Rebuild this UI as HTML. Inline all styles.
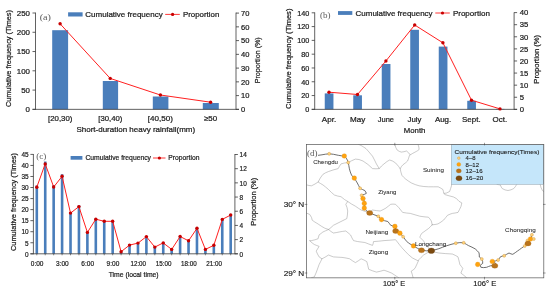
<!DOCTYPE html>
<html lang="en">
<head>
<meta charset="utf-8">
<title>Short-duration heavy rainfall statistics</title>
<style>
html,body{margin:0;padding:0;background:#fff;}
body{width:550px;height:288px;overflow:hidden;}
svg{display:block;font-family:"Liberation Sans","DejaVu Sans",sans-serif;fill:#1a1a1a;}
svg text{stroke:#1a1a1a;stroke-width:0.22px;paint-order:stroke fill;}
svg rect,svg circle,svg ellipse,svg line,svg polyline{shape-rendering:geometricPrecision;}
</style>
</head>
<body>
<svg width="550" height="288" viewBox="0 0 550 288">
<rect x="0" y="0" width="550" height="288" fill="#ffffff"/>
<g id="pa">
<rect x="52.20" y="30.20" width="15.90" height="79.15" fill="#4a7ebb"/>
<rect x="102.80" y="81.00" width="15.30" height="28.35" fill="#4a7ebb"/>
<rect x="152.80" y="96.50" width="15.60" height="12.85" fill="#4a7ebb"/>
<rect x="202.80" y="103.00" width="16.00" height="6.35" fill="#4a7ebb"/>
<line x1="35.50" y1="12.60" x2="35.50" y2="109.75" stroke="#3a3a3a" stroke-width="0.8"/>
<line x1="236.00" y1="12.60" x2="236.00" y2="109.75" stroke="#3a3a3a" stroke-width="0.8"/>
<line x1="32.50" y1="109.35" x2="239.00" y2="109.35" stroke="#3a3a3a" stroke-width="0.8"/>
<line x1="32.50" y1="109.35" x2="35.50" y2="109.35" stroke="#3a3a3a" stroke-width="0.8"/>
<text x="30.00" y="112.11" font-size="7.7" text-anchor="end" textLength="4.40" lengthAdjust="spacingAndGlyphs">0</text>
<line x1="32.50" y1="90.08" x2="35.50" y2="90.08" stroke="#3a3a3a" stroke-width="0.8"/>
<text x="30.00" y="92.84" font-size="7.7" text-anchor="end" textLength="8.80" lengthAdjust="spacingAndGlyphs">50</text>
<line x1="32.50" y1="70.81" x2="35.50" y2="70.81" stroke="#3a3a3a" stroke-width="0.8"/>
<text x="30.00" y="73.57" font-size="7.7" text-anchor="end" textLength="13.20" lengthAdjust="spacingAndGlyphs">100</text>
<line x1="32.50" y1="51.54" x2="35.50" y2="51.54" stroke="#3a3a3a" stroke-width="0.8"/>
<text x="30.00" y="54.30" font-size="7.7" text-anchor="end" textLength="13.20" lengthAdjust="spacingAndGlyphs">150</text>
<line x1="32.50" y1="32.27" x2="35.50" y2="32.27" stroke="#3a3a3a" stroke-width="0.8"/>
<text x="30.00" y="35.03" font-size="7.7" text-anchor="end" textLength="13.20" lengthAdjust="spacingAndGlyphs">200</text>
<line x1="32.50" y1="13.00" x2="35.50" y2="13.00" stroke="#3a3a3a" stroke-width="0.8"/>
<text x="30.00" y="15.76" font-size="7.7" text-anchor="end" textLength="13.20" lengthAdjust="spacingAndGlyphs">250</text>
<line x1="236.00" y1="109.35" x2="239.00" y2="109.35" stroke="#3a3a3a" stroke-width="0.8"/>
<text x="241.00" y="112.11" font-size="7.7" textLength="4.20" lengthAdjust="spacingAndGlyphs">0</text>
<line x1="236.00" y1="95.60" x2="239.00" y2="95.60" stroke="#3a3a3a" stroke-width="0.8"/>
<text x="241.00" y="98.36" font-size="7.7" textLength="8.40" lengthAdjust="spacingAndGlyphs">10</text>
<line x1="236.00" y1="81.85" x2="239.00" y2="81.85" stroke="#3a3a3a" stroke-width="0.8"/>
<text x="241.00" y="84.61" font-size="7.7" textLength="8.40" lengthAdjust="spacingAndGlyphs">20</text>
<line x1="236.00" y1="68.10" x2="239.00" y2="68.10" stroke="#3a3a3a" stroke-width="0.8"/>
<text x="241.00" y="70.86" font-size="7.7" textLength="8.40" lengthAdjust="spacingAndGlyphs">30</text>
<line x1="236.00" y1="54.35" x2="239.00" y2="54.35" stroke="#3a3a3a" stroke-width="0.8"/>
<text x="241.00" y="57.11" font-size="7.7" textLength="8.40" lengthAdjust="spacingAndGlyphs">40</text>
<line x1="236.00" y1="40.60" x2="239.00" y2="40.60" stroke="#3a3a3a" stroke-width="0.8"/>
<text x="241.00" y="43.36" font-size="7.7" textLength="8.40" lengthAdjust="spacingAndGlyphs">50</text>
<line x1="236.00" y1="26.85" x2="239.00" y2="26.85" stroke="#3a3a3a" stroke-width="0.8"/>
<text x="241.00" y="29.61" font-size="7.7" textLength="8.40" lengthAdjust="spacingAndGlyphs">60</text>
<line x1="236.00" y1="13.10" x2="239.00" y2="13.10" stroke="#3a3a3a" stroke-width="0.8"/>
<text x="241.00" y="15.86" font-size="7.7" textLength="8.40" lengthAdjust="spacingAndGlyphs">70</text>
<polyline points="60.1,23.8 110.2,78.4 160.4,95.0 210.6,102.2" fill="none" stroke="#ff2020" stroke-width="1.0" stroke-linejoin="round" stroke-linecap="round"/>
<circle cx="60.10" cy="23.80" r="1.7" fill="#c80000"/>
<circle cx="110.20" cy="78.40" r="1.7" fill="#c80000"/>
<circle cx="160.40" cy="95.00" r="1.7" fill="#c80000"/>
<circle cx="210.60" cy="102.20" r="1.7" fill="#c80000"/>
<text x="60.20" y="121.30" font-size="7.7" text-anchor="middle" textLength="24.40" lengthAdjust="spacingAndGlyphs">[20,30)</text>
<text x="110.40" y="121.30" font-size="7.7" text-anchor="middle" textLength="24.10" lengthAdjust="spacingAndGlyphs">[30,40)</text>
<text x="160.40" y="121.30" font-size="7.7" text-anchor="middle" textLength="25.20" lengthAdjust="spacingAndGlyphs">[40,50)</text>
<text x="210.60" y="121.30" font-size="7.7" text-anchor="middle" textLength="13.20" lengthAdjust="spacingAndGlyphs">≥50</text>
<text x="76.40" y="132.30" font-size="7.7" textLength="118.80" lengthAdjust="spacingAndGlyphs">Short-duration heavy rainfall(mm)</text>
<text transform="translate(10.90 58.60) rotate(-90)" font-size="7.7" text-anchor="middle" textLength="97.00" lengthAdjust="spacingAndGlyphs">Cumulative frequency (Times)</text>
<text transform="translate(260.40 60.30) rotate(-90)" font-size="7.7" text-anchor="middle" textLength="46.10" lengthAdjust="spacingAndGlyphs">Proportion (%)</text>
<rect x="68.10" y="12.30" width="14.50" height="4.20" fill="#4a7ebb"/>
<text x="85.30" y="17.10" font-size="7.7" textLength="77.40" lengthAdjust="spacingAndGlyphs">Cumulative frequency</text>
<line x1="165.20" y1="14.40" x2="179.80" y2="14.40" stroke="#ff2020" stroke-width="0.9"/>
<circle cx="172.60" cy="14.40" r="1.6" fill="#c80000"/>
<text x="182.90" y="17.10" font-size="7.7" textLength="36.40" lengthAdjust="spacingAndGlyphs">Proportion</text>
<text x="39.70" y="20.00" font-size="7.9" textLength="11.30" lengthAdjust="spacingAndGlyphs" fill="#5a5a5a" font-family="'Liberation Serif','DejaVu Serif',serif" style="stroke:none">(a)</text>
</g>
<g id="pb">
<rect x="324.75" y="93.40" width="8.70" height="15.95" fill="#4a7ebb"/>
<rect x="353.25" y="95.30" width="8.70" height="14.05" fill="#4a7ebb"/>
<rect x="381.75" y="64.00" width="8.70" height="45.35" fill="#4a7ebb"/>
<rect x="410.25" y="29.80" width="8.70" height="79.55" fill="#4a7ebb"/>
<rect x="438.75" y="46.60" width="8.70" height="62.75" fill="#4a7ebb"/>
<rect x="467.25" y="100.80" width="8.70" height="8.55" fill="#4a7ebb"/>
<rect x="495.75" y="108.90" width="8.70" height="0.45" fill="#4a7ebb"/>
<line x1="314.70" y1="12.40" x2="314.70" y2="109.75" stroke="#3a3a3a" stroke-width="0.8"/>
<line x1="514.10" y1="12.40" x2="514.10" y2="109.75" stroke="#3a3a3a" stroke-width="0.8"/>
<line x1="311.70" y1="109.35" x2="517.10" y2="109.35" stroke="#3a3a3a" stroke-width="0.8"/>
<line x1="311.70" y1="109.35" x2="314.70" y2="109.35" stroke="#3a3a3a" stroke-width="0.8"/>
<text x="309.40" y="112.11" font-size="7.7" text-anchor="end" textLength="4.05" lengthAdjust="spacingAndGlyphs">0</text>
<line x1="311.70" y1="95.56" x2="314.70" y2="95.56" stroke="#3a3a3a" stroke-width="0.8"/>
<text x="309.40" y="98.31" font-size="7.7" text-anchor="end" textLength="8.10" lengthAdjust="spacingAndGlyphs">20</text>
<line x1="311.70" y1="81.76" x2="314.70" y2="81.76" stroke="#3a3a3a" stroke-width="0.8"/>
<text x="309.40" y="84.52" font-size="7.7" text-anchor="end" textLength="8.10" lengthAdjust="spacingAndGlyphs">40</text>
<line x1="311.70" y1="67.97" x2="314.70" y2="67.97" stroke="#3a3a3a" stroke-width="0.8"/>
<text x="309.40" y="70.73" font-size="7.7" text-anchor="end" textLength="8.10" lengthAdjust="spacingAndGlyphs">60</text>
<line x1="311.70" y1="54.18" x2="314.70" y2="54.18" stroke="#3a3a3a" stroke-width="0.8"/>
<text x="309.40" y="56.94" font-size="7.7" text-anchor="end" textLength="8.10" lengthAdjust="spacingAndGlyphs">80</text>
<line x1="311.70" y1="40.39" x2="314.70" y2="40.39" stroke="#3a3a3a" stroke-width="0.8"/>
<text x="309.40" y="43.14" font-size="7.7" text-anchor="end" textLength="12.15" lengthAdjust="spacingAndGlyphs">100</text>
<line x1="311.70" y1="26.59" x2="314.70" y2="26.59" stroke="#3a3a3a" stroke-width="0.8"/>
<text x="309.40" y="29.35" font-size="7.7" text-anchor="end" textLength="12.15" lengthAdjust="spacingAndGlyphs">120</text>
<line x1="311.70" y1="12.80" x2="314.70" y2="12.80" stroke="#3a3a3a" stroke-width="0.8"/>
<text x="309.40" y="15.56" font-size="7.7" text-anchor="end" textLength="12.15" lengthAdjust="spacingAndGlyphs">140</text>
<line x1="514.10" y1="109.35" x2="517.10" y2="109.35" stroke="#3a3a3a" stroke-width="0.8"/>
<text x="519.80" y="112.11" font-size="7.7" textLength="4.30" lengthAdjust="spacingAndGlyphs">0</text>
<line x1="514.10" y1="97.26" x2="517.10" y2="97.26" stroke="#3a3a3a" stroke-width="0.8"/>
<text x="519.80" y="100.01" font-size="7.7" textLength="4.30" lengthAdjust="spacingAndGlyphs">5</text>
<line x1="514.10" y1="85.16" x2="517.10" y2="85.16" stroke="#3a3a3a" stroke-width="0.8"/>
<text x="519.80" y="87.92" font-size="7.7" textLength="8.60" lengthAdjust="spacingAndGlyphs">10</text>
<line x1="514.10" y1="73.07" x2="517.10" y2="73.07" stroke="#3a3a3a" stroke-width="0.8"/>
<text x="519.80" y="75.83" font-size="7.7" textLength="8.60" lengthAdjust="spacingAndGlyphs">15</text>
<line x1="514.10" y1="60.97" x2="517.10" y2="60.97" stroke="#3a3a3a" stroke-width="0.8"/>
<text x="519.80" y="63.73" font-size="7.7" textLength="8.60" lengthAdjust="spacingAndGlyphs">20</text>
<line x1="514.10" y1="48.88" x2="517.10" y2="48.88" stroke="#3a3a3a" stroke-width="0.8"/>
<text x="519.80" y="51.64" font-size="7.7" textLength="8.60" lengthAdjust="spacingAndGlyphs">25</text>
<line x1="514.10" y1="36.79" x2="517.10" y2="36.79" stroke="#3a3a3a" stroke-width="0.8"/>
<text x="519.80" y="39.54" font-size="7.7" textLength="8.60" lengthAdjust="spacingAndGlyphs">30</text>
<line x1="514.10" y1="24.69" x2="517.10" y2="24.69" stroke="#3a3a3a" stroke-width="0.8"/>
<text x="519.80" y="27.45" font-size="7.7" textLength="8.60" lengthAdjust="spacingAndGlyphs">35</text>
<line x1="514.10" y1="12.60" x2="517.10" y2="12.60" stroke="#3a3a3a" stroke-width="0.8"/>
<text x="519.80" y="15.36" font-size="7.7" textLength="8.60" lengthAdjust="spacingAndGlyphs">40</text>
<polyline points="329.0,92.2 357.5,94.5 385.9,61.0 414.7,25.0 442.9,42.8 471.5,100.2 500.0,108.9" fill="none" stroke="#ff2020" stroke-width="1.0" stroke-linejoin="round" stroke-linecap="round"/>
<circle cx="329.00" cy="92.20" r="1.7" fill="#c80000"/>
<circle cx="357.50" cy="94.50" r="1.7" fill="#c80000"/>
<circle cx="385.90" cy="61.00" r="1.7" fill="#c80000"/>
<circle cx="414.70" cy="25.00" r="1.7" fill="#c80000"/>
<circle cx="442.90" cy="42.80" r="1.7" fill="#c80000"/>
<circle cx="471.50" cy="100.20" r="1.7" fill="#c80000"/>
<circle cx="500.00" cy="108.90" r="1.7" fill="#c80000"/>
<text x="321.80" y="121.60" font-size="7.7" textLength="14.40" lengthAdjust="spacingAndGlyphs">Apr.</text>
<text x="350.10" y="121.60" font-size="7.7" textLength="15.30" lengthAdjust="spacingAndGlyphs">May</text>
<text x="377.80" y="121.60" font-size="7.7" textLength="16.20" lengthAdjust="spacingAndGlyphs">June</text>
<text x="407.60" y="121.60" font-size="7.7" textLength="13.80" lengthAdjust="spacingAndGlyphs">July</text>
<text x="434.90" y="121.60" font-size="7.7" textLength="16.30" lengthAdjust="spacingAndGlyphs">Aug.</text>
<text x="462.00" y="121.60" font-size="7.7" textLength="18.60" lengthAdjust="spacingAndGlyphs">Sept.</text>
<text x="492.60" y="121.60" font-size="7.7" textLength="14.60" lengthAdjust="spacingAndGlyphs">Oct.</text>
<text x="403.80" y="133.40" font-size="7.7" textLength="21.60" lengthAdjust="spacingAndGlyphs">Month</text>
<text transform="translate(291.30 58.80) rotate(-90)" font-size="7.7" text-anchor="middle" textLength="100.40" lengthAdjust="spacingAndGlyphs">Cumulative frequency (Times)</text>
<text transform="translate(538.70 59.30) rotate(-90)" font-size="7.7" text-anchor="middle" textLength="48.70" lengthAdjust="spacingAndGlyphs">Proportion (%)</text>
<rect x="338.00" y="11.10" width="14.30" height="3.80" fill="#4a7ebb"/>
<text x="355.60" y="15.70" font-size="7.7" textLength="77.00" lengthAdjust="spacingAndGlyphs">Cumulative frequency</text>
<line x1="435.30" y1="13.00" x2="449.80" y2="13.00" stroke="#ff2020" stroke-width="0.9"/>
<circle cx="442.50" cy="13.00" r="1.6" fill="#c80000"/>
<text x="452.90" y="15.70" font-size="7.7" textLength="37.00" lengthAdjust="spacingAndGlyphs">Proportion</text>
<text x="319.90" y="17.90" font-size="7.9" textLength="10.50" lengthAdjust="spacingAndGlyphs" fill="#5a5a5a" font-family="'Liberation Serif','DejaVu Serif',serif" style="stroke:none">(b)</text>
</g>
<g id="pc">
<rect x="35.50" y="185.42" width="2.60" height="68.38" fill="#4a7ebb"/>
<line x1="36.80" y1="253.80" x2="36.80" y2="255.30" stroke="#3a3a3a" stroke-width="0.6"/>
<rect x="43.93" y="161.50" width="2.60" height="92.30" fill="#4a7ebb"/>
<line x1="45.23" y1="253.80" x2="45.23" y2="255.30" stroke="#3a3a3a" stroke-width="0.6"/>
<rect x="52.36" y="185.22" width="2.60" height="68.58" fill="#4a7ebb"/>
<line x1="53.66" y1="253.80" x2="53.66" y2="255.30" stroke="#3a3a3a" stroke-width="0.6"/>
<rect x="60.79" y="174.23" width="2.60" height="79.57" fill="#4a7ebb"/>
<line x1="62.09" y1="253.80" x2="62.09" y2="255.30" stroke="#3a3a3a" stroke-width="0.6"/>
<rect x="69.22" y="212.01" width="2.60" height="41.79" fill="#4a7ebb"/>
<line x1="70.52" y1="253.80" x2="70.52" y2="255.30" stroke="#3a3a3a" stroke-width="0.6"/>
<rect x="77.65" y="205.34" width="2.60" height="48.46" fill="#4a7ebb"/>
<line x1="78.95" y1="253.80" x2="78.95" y2="255.30" stroke="#3a3a3a" stroke-width="0.6"/>
<rect x="86.08" y="231.83" width="2.60" height="21.97" fill="#4a7ebb"/>
<line x1="87.38" y1="253.80" x2="87.38" y2="255.30" stroke="#3a3a3a" stroke-width="0.6"/>
<rect x="94.51" y="218.28" width="2.60" height="35.52" fill="#4a7ebb"/>
<line x1="95.81" y1="253.80" x2="95.81" y2="255.30" stroke="#3a3a3a" stroke-width="0.6"/>
<rect x="102.94" y="220.43" width="2.60" height="33.37" fill="#4a7ebb"/>
<line x1="104.24" y1="253.80" x2="104.24" y2="255.30" stroke="#3a3a3a" stroke-width="0.6"/>
<rect x="111.37" y="220.43" width="2.60" height="33.37" fill="#4a7ebb"/>
<line x1="112.67" y1="253.80" x2="112.67" y2="255.30" stroke="#3a3a3a" stroke-width="0.6"/>
<rect x="119.80" y="251.64" width="2.60" height="2.16" fill="#4a7ebb"/>
<line x1="121.10" y1="253.80" x2="121.10" y2="255.30" stroke="#3a3a3a" stroke-width="0.6"/>
<rect x="128.23" y="244.87" width="2.60" height="8.93" fill="#4a7ebb"/>
<line x1="129.53" y1="253.80" x2="129.53" y2="255.30" stroke="#3a3a3a" stroke-width="0.6"/>
<rect x="136.66" y="242.81" width="2.60" height="10.99" fill="#4a7ebb"/>
<line x1="137.96" y1="253.80" x2="137.96" y2="255.30" stroke="#3a3a3a" stroke-width="0.6"/>
<rect x="145.09" y="236.14" width="2.60" height="17.66" fill="#4a7ebb"/>
<line x1="146.39" y1="253.80" x2="146.39" y2="255.30" stroke="#3a3a3a" stroke-width="0.6"/>
<rect x="153.52" y="246.92" width="2.60" height="6.88" fill="#4a7ebb"/>
<line x1="154.82" y1="253.80" x2="154.82" y2="255.30" stroke="#3a3a3a" stroke-width="0.6"/>
<rect x="161.95" y="242.61" width="2.60" height="11.19" fill="#4a7ebb"/>
<line x1="163.25" y1="253.80" x2="163.25" y2="255.30" stroke="#3a3a3a" stroke-width="0.6"/>
<rect x="170.38" y="249.28" width="2.60" height="4.52" fill="#4a7ebb"/>
<line x1="171.68" y1="253.80" x2="171.68" y2="255.30" stroke="#3a3a3a" stroke-width="0.6"/>
<rect x="178.81" y="236.04" width="2.60" height="17.76" fill="#4a7ebb"/>
<line x1="180.11" y1="253.80" x2="180.11" y2="255.30" stroke="#3a3a3a" stroke-width="0.6"/>
<rect x="187.24" y="240.45" width="2.60" height="13.35" fill="#4a7ebb"/>
<line x1="188.54" y1="253.80" x2="188.54" y2="255.30" stroke="#3a3a3a" stroke-width="0.6"/>
<rect x="195.67" y="227.62" width="2.60" height="26.18" fill="#4a7ebb"/>
<line x1="196.97" y1="253.80" x2="196.97" y2="255.30" stroke="#3a3a3a" stroke-width="0.6"/>
<rect x="204.10" y="249.28" width="2.60" height="4.52" fill="#4a7ebb"/>
<line x1="205.40" y1="253.80" x2="205.40" y2="255.30" stroke="#3a3a3a" stroke-width="0.6"/>
<rect x="212.53" y="245.07" width="2.60" height="8.73" fill="#4a7ebb"/>
<line x1="213.83" y1="253.80" x2="213.83" y2="255.30" stroke="#3a3a3a" stroke-width="0.6"/>
<rect x="220.96" y="218.48" width="2.60" height="35.32" fill="#4a7ebb"/>
<line x1="222.26" y1="253.80" x2="222.26" y2="255.30" stroke="#3a3a3a" stroke-width="0.6"/>
<rect x="229.39" y="213.96" width="2.60" height="39.84" fill="#4a7ebb"/>
<line x1="230.69" y1="253.80" x2="230.69" y2="255.30" stroke="#3a3a3a" stroke-width="0.6"/>
<line x1="33.40" y1="154.00" x2="33.40" y2="254.20" stroke="#3a3a3a" stroke-width="0.8"/>
<line x1="234.90" y1="154.00" x2="234.90" y2="254.20" stroke="#3a3a3a" stroke-width="0.8"/>
<line x1="30.40" y1="253.80" x2="237.90" y2="253.80" stroke="#3a3a3a" stroke-width="0.8"/>
<line x1="30.40" y1="253.80" x2="33.40" y2="253.80" stroke="#3a3a3a" stroke-width="0.8"/>
<text x="28.60" y="256.56" font-size="7.7" text-anchor="end" textLength="3.60" lengthAdjust="spacingAndGlyphs">0</text>
<line x1="30.40" y1="242.76" x2="33.40" y2="242.76" stroke="#3a3a3a" stroke-width="0.8"/>
<text x="28.60" y="245.51" font-size="7.7" text-anchor="end" textLength="3.60" lengthAdjust="spacingAndGlyphs">5</text>
<line x1="30.40" y1="231.71" x2="33.40" y2="231.71" stroke="#3a3a3a" stroke-width="0.8"/>
<text x="28.60" y="234.47" font-size="7.7" text-anchor="end" textLength="7.20" lengthAdjust="spacingAndGlyphs">10</text>
<line x1="30.40" y1="220.67" x2="33.40" y2="220.67" stroke="#3a3a3a" stroke-width="0.8"/>
<text x="28.60" y="223.42" font-size="7.7" text-anchor="end" textLength="7.20" lengthAdjust="spacingAndGlyphs">15</text>
<line x1="30.40" y1="209.62" x2="33.40" y2="209.62" stroke="#3a3a3a" stroke-width="0.8"/>
<text x="28.60" y="212.38" font-size="7.7" text-anchor="end" textLength="7.20" lengthAdjust="spacingAndGlyphs">20</text>
<line x1="30.40" y1="198.58" x2="33.40" y2="198.58" stroke="#3a3a3a" stroke-width="0.8"/>
<text x="28.60" y="201.33" font-size="7.7" text-anchor="end" textLength="7.20" lengthAdjust="spacingAndGlyphs">25</text>
<line x1="30.40" y1="187.53" x2="33.40" y2="187.53" stroke="#3a3a3a" stroke-width="0.8"/>
<text x="28.60" y="190.29" font-size="7.7" text-anchor="end" textLength="7.20" lengthAdjust="spacingAndGlyphs">30</text>
<line x1="30.40" y1="176.49" x2="33.40" y2="176.49" stroke="#3a3a3a" stroke-width="0.8"/>
<text x="28.60" y="179.25" font-size="7.7" text-anchor="end" textLength="7.20" lengthAdjust="spacingAndGlyphs">35</text>
<line x1="30.40" y1="165.44" x2="33.40" y2="165.44" stroke="#3a3a3a" stroke-width="0.8"/>
<text x="28.60" y="168.20" font-size="7.7" text-anchor="end" textLength="7.20" lengthAdjust="spacingAndGlyphs">40</text>
<line x1="30.40" y1="154.40" x2="33.40" y2="154.40" stroke="#3a3a3a" stroke-width="0.8"/>
<text x="28.60" y="157.16" font-size="7.7" text-anchor="end" textLength="7.20" lengthAdjust="spacingAndGlyphs">45</text>
<line x1="234.90" y1="253.80" x2="237.90" y2="253.80" stroke="#3a3a3a" stroke-width="0.8"/>
<text x="239.60" y="256.56" font-size="7.7" textLength="3.60" lengthAdjust="spacingAndGlyphs">0</text>
<line x1="234.90" y1="239.61" x2="237.90" y2="239.61" stroke="#3a3a3a" stroke-width="0.8"/>
<text x="239.60" y="242.37" font-size="7.7" textLength="3.60" lengthAdjust="spacingAndGlyphs">2</text>
<line x1="234.90" y1="225.43" x2="237.90" y2="225.43" stroke="#3a3a3a" stroke-width="0.8"/>
<text x="239.60" y="228.19" font-size="7.7" textLength="3.60" lengthAdjust="spacingAndGlyphs">4</text>
<line x1="234.90" y1="211.24" x2="237.90" y2="211.24" stroke="#3a3a3a" stroke-width="0.8"/>
<text x="239.60" y="214.00" font-size="7.7" textLength="3.60" lengthAdjust="spacingAndGlyphs">6</text>
<line x1="234.90" y1="197.06" x2="237.90" y2="197.06" stroke="#3a3a3a" stroke-width="0.8"/>
<text x="239.60" y="199.81" font-size="7.7" textLength="3.60" lengthAdjust="spacingAndGlyphs">8</text>
<line x1="234.90" y1="182.87" x2="237.90" y2="182.87" stroke="#3a3a3a" stroke-width="0.8"/>
<text x="239.60" y="185.63" font-size="7.7" textLength="7.20" lengthAdjust="spacingAndGlyphs">10</text>
<line x1="234.90" y1="168.69" x2="237.90" y2="168.69" stroke="#3a3a3a" stroke-width="0.8"/>
<text x="239.60" y="171.44" font-size="7.7" textLength="7.20" lengthAdjust="spacingAndGlyphs">12</text>
<line x1="234.90" y1="154.50" x2="237.90" y2="154.50" stroke="#3a3a3a" stroke-width="0.8"/>
<text x="239.60" y="157.26" font-size="7.7" textLength="7.20" lengthAdjust="spacingAndGlyphs">14</text>
<polyline points="36.8,187.2 45.2,163.9 53.7,187.0 62.1,176.3 70.5,213.1 78.9,206.6 87.4,232.4 95.8,219.2 104.2,221.3 112.7,221.3 121.1,251.7 129.5,245.1 138.0,243.1 146.4,236.6 154.8,247.1 163.2,242.9 171.7,249.4 180.1,236.5 188.5,240.8 197.0,228.3 205.4,249.4 213.8,245.3 222.3,219.4 230.7,215.0" fill="none" stroke="#ff2020" stroke-width="1.0" stroke-linejoin="round" stroke-linecap="round"/>
<circle cx="36.80" cy="187.20" r="1.7" fill="#c80000"/>
<circle cx="45.23" cy="163.90" r="1.7" fill="#c80000"/>
<circle cx="53.66" cy="187.00" r="1.7" fill="#c80000"/>
<circle cx="62.09" cy="176.30" r="1.7" fill="#c80000"/>
<circle cx="70.52" cy="213.10" r="1.7" fill="#c80000"/>
<circle cx="78.95" cy="206.60" r="1.7" fill="#c80000"/>
<circle cx="87.38" cy="232.40" r="1.7" fill="#c80000"/>
<circle cx="95.81" cy="219.20" r="1.7" fill="#c80000"/>
<circle cx="104.24" cy="221.30" r="1.7" fill="#c80000"/>
<circle cx="112.67" cy="221.30" r="1.7" fill="#c80000"/>
<circle cx="121.10" cy="251.70" r="1.7" fill="#c80000"/>
<circle cx="129.53" cy="245.10" r="1.7" fill="#c80000"/>
<circle cx="137.96" cy="243.10" r="1.7" fill="#c80000"/>
<circle cx="146.39" cy="236.60" r="1.7" fill="#c80000"/>
<circle cx="154.82" cy="247.10" r="1.7" fill="#c80000"/>
<circle cx="163.25" cy="242.90" r="1.7" fill="#c80000"/>
<circle cx="171.68" cy="249.40" r="1.7" fill="#c80000"/>
<circle cx="180.11" cy="236.50" r="1.7" fill="#c80000"/>
<circle cx="188.54" cy="240.80" r="1.7" fill="#c80000"/>
<circle cx="196.97" cy="228.30" r="1.7" fill="#c80000"/>
<circle cx="205.40" cy="249.40" r="1.7" fill="#c80000"/>
<circle cx="213.83" cy="245.30" r="1.7" fill="#c80000"/>
<circle cx="222.26" cy="219.40" r="1.7" fill="#c80000"/>
<circle cx="230.69" cy="215.00" r="1.7" fill="#c80000"/>
<text x="37.10" y="265.60" font-size="7.7" text-anchor="middle" textLength="12.70" lengthAdjust="spacingAndGlyphs">0:00</text>
<text x="62.39" y="265.60" font-size="7.7" text-anchor="middle" textLength="12.70" lengthAdjust="spacingAndGlyphs">3:00</text>
<text x="87.68" y="265.60" font-size="7.7" text-anchor="middle" textLength="12.70" lengthAdjust="spacingAndGlyphs">6:00</text>
<text x="112.97" y="265.60" font-size="7.7" text-anchor="middle" textLength="12.70" lengthAdjust="spacingAndGlyphs">9:00</text>
<text x="138.26" y="265.60" font-size="7.7" text-anchor="middle" textLength="15.70" lengthAdjust="spacingAndGlyphs">12:00</text>
<text x="163.55" y="265.60" font-size="7.7" text-anchor="middle" textLength="15.70" lengthAdjust="spacingAndGlyphs">15:00</text>
<text x="188.84" y="265.60" font-size="7.7" text-anchor="middle" textLength="15.70" lengthAdjust="spacingAndGlyphs">18:00</text>
<text x="214.13" y="265.60" font-size="7.7" text-anchor="middle" textLength="15.70" lengthAdjust="spacingAndGlyphs">21:00</text>
<text x="108.70" y="276.90" font-size="7.7" textLength="49.90" lengthAdjust="spacingAndGlyphs">Time (local time)</text>
<text transform="translate(16.40 202.00) rotate(-90)" font-size="7.7" text-anchor="middle" textLength="98.00" lengthAdjust="spacingAndGlyphs">Cumulative frequency (Times)</text>
<text transform="translate(256.30 201.80) rotate(-90)" font-size="7.7" text-anchor="middle" textLength="48.00" lengthAdjust="spacingAndGlyphs">Proportion (%)</text>
<rect x="70.60" y="156.00" width="11.80" height="3.70" fill="#4a7ebb"/>
<text x="85.40" y="160.30" font-size="7.7" textLength="65.60" lengthAdjust="spacingAndGlyphs">Cumulative frequency</text>
<line x1="153.00" y1="158.00" x2="165.50" y2="158.00" stroke="#ff2020" stroke-width="0.9"/>
<circle cx="159.40" cy="158.00" r="1.6" fill="#c80000"/>
<text x="168.30" y="160.30" font-size="7.7" textLength="31.10" lengthAdjust="spacingAndGlyphs">Proportion</text>
<text x="36.30" y="159.00" font-size="7.9" textLength="10.10" lengthAdjust="spacingAndGlyphs" fill="#5a5a5a" font-family="'Liberation Serif','DejaVu Serif',serif" style="stroke:none">(c)</text>
</g>
<g id="pd">
<clipPath id="mc"><rect x="306.5" y="144.6" width="237.29999999999995" height="133.25000000000003"/></clipPath>
<g clip-path="url(#mc)">
<polyline points="358.0,144.0 362.0,146.0 366.0,148.6 369.0,152.0 372.5,156.2 374.5,160.0 376.4,163.9 379.2,168.6 381.5,166.0 384.0,163.9 387.0,161.5 389.7,160.0 392.5,161.0 395.5,162.9 398.5,166.3 400.2,168.8" fill="none" stroke="#979797" stroke-width="0.5" stroke-linejoin="round" stroke-linecap="round"/>
<polyline points="394.8,144.6 395.8,147.5 397.1,150.0 399.2,151.3 401.3,152.1 404.0,151.7 406.5,151.0 408.6,152.8 410.2,154.8" fill="none" stroke="#979797" stroke-width="0.5" stroke-linejoin="round" stroke-linecap="round"/>
<polyline points="379.2,168.6 376.0,168.8 372.5,168.6 368.0,164.5 363.0,161.0 359.0,159.5 355.4,159.1 351.5,160.8 348.1,162.5 344.5,163.0 341.0,163.9 339.3,166.5 338.2,168.6 333.0,170.0 328.6,171.5 325.5,172.8 322.9,174.4 320.3,178.0 318.1,182.0 320.5,183.5 322.9,184.9 325.8,187.2 328.6,189.6 331.5,192.5 334.4,195.0 337.5,196.0 341.0,196.7 344.5,199.5 347.7,201.5 345.8,204.3 347.0,207.5 347.7,211.0 347.4,215.0 346.8,218.6 344.0,220.0 341.0,221.5 337.0,223.5 333.4,225.3 331.0,227.5 328.6,229.5" fill="none" stroke="#979797" stroke-width="0.5" stroke-linejoin="round" stroke-linecap="round"/>
<polyline points="318.1,182.0 315.0,184.0 311.5,185.8 309.0,185.5 306.7,184.9" fill="none" stroke="#979797" stroke-width="0.5" stroke-linejoin="round" stroke-linecap="round"/>
<polyline points="306.5,213.1 309.7,214.4 311.6,217.6 312.2,220.2 314.8,222.0 318.1,224.0 321.5,226.3 324.8,228.2 328.6,229.5 325.5,230.8 322.9,232.0 321.0,233.5 319.1,234.9 318.5,237.0 318.1,238.7 315.0,239.8 311.5,240.6 309.5,240.6 312.0,242.8 314.3,244.5 316.8,245.5 319.1,246.4 317.5,249.0 316.2,251.1 317.5,254.0 319.1,256.9 322.0,258.8 320.5,261.8 319.1,264.5 317.5,269.0 316.0,273.0 314.3,276.9 311.6,277.7" fill="none" stroke="#979797" stroke-width="0.5" stroke-linejoin="round" stroke-linecap="round"/>
<polyline points="322.0,258.8 325.3,257.0 328.6,255.0 331.0,256.0 333.4,256.9 338.0,257.2 342.0,257.4 346.0,258.0 349.6,258.8 352.5,260.8 355.4,262.6 358.3,260.8 361.1,258.8 364.0,260.0 366.8,261.6 367.8,265.5 368.7,269.3 372.5,270.8 376.4,272.1 380.2,271.3 384.0,270.2 388.0,271.6 391.6,273.1 394.6,275.0 397.4,276.9 399.0,278.0" fill="none" stroke="#979797" stroke-width="0.5" stroke-linejoin="round" stroke-linecap="round"/>
<polyline points="328.6,229.5 331.0,231.5 333.4,233.0 336.2,232.6 339.1,232.0 342.5,231.4 345.8,231.0 348.3,233.0 350.6,235.0 352.0,238.0 353.5,240.6 357.3,241.5 361.0,242.0 364.9,242.5 368.7,244.0 372.5,245.4 373.2,243.5 373.5,241.6 378.7,241.2 384.0,240.6 390.0,240.2 395.5,239.7 397.4,242.0 399.3,244.5 402.0,247.8 405.0,251.1 408.5,254.7 412.2,257.8 415.0,259.3 417.9,260.7" fill="none" stroke="#979797" stroke-width="0.5" stroke-linejoin="round" stroke-linecap="round"/>
<polyline points="347.7,201.5 351.5,204.0 355.4,206.2 358.3,208.2 361.1,210.0 365.5,211.5 369.7,212.9 371.0,211.2 372.5,210.0 376.4,210.6 380.2,211.0 383.0,209.7 385.9,208.1 388.3,206.2 390.7,204.3 393.0,204.1 395.5,204.3 398.8,207.6 400.7,210.0 402.6,212.4 406.5,213.0 410.3,213.4 415.0,214.8 419.8,216.2 424.0,216.8 428.4,217.2 430.0,219.0 431.3,221.0 431.8,223.0 432.2,224.8" fill="none" stroke="#979797" stroke-width="0.5" stroke-linejoin="round" stroke-linecap="round"/>
<polyline points="432.2,224.8 435.0,224.5 438.0,223.9 441.0,222.0 443.7,220.0 445.7,217.6 447.5,215.3 450.0,214.2 452.3,213.4 455.0,213.0 458.0,212.4 459.5,209.5 460.9,206.7 461.4,204.8 461.8,202.9 459.0,201.3 456.5,198.6 453.3,196.9 449.0,195.8 445.0,194.6 443.9,193.5" fill="none" stroke="#979797" stroke-width="0.5" stroke-linejoin="round" stroke-linecap="round"/>
<polyline points="432.2,224.8 430.3,226.8 428.4,228.6 425.0,231.0 421.7,233.4 420.6,235.3 419.8,237.2 421.6,239.0 423.6,241.0 424.7,243.0 425.5,244.9 428.0,247.5 431.3,250.7" fill="none" stroke="#979797" stroke-width="0.5" stroke-linejoin="round" stroke-linecap="round"/>
<polyline points="418.1,144.6 418.8,147.0 419.1,149.5 417.7,150.6 416.2,151.5 412.8,153.3 409.5,155.3 408.6,158.2 407.6,161.0 405.3,163.0 402.9,164.8 401.3,166.7 400.2,168.8 400.9,172.0 401.9,175.3 403.7,177.3 405.7,179.1 408.6,181.2 411.5,183.0 415.3,184.6 419.1,185.8 423.8,186.5 428.6,186.8 433.4,186.8 438.2,186.8 440.7,188.1 443.0,189.6 443.4,191.5 443.9,193.5 446.5,193.0 449.6,191.5 450.6,188.6 451.5,185.8 451.5,184.6" fill="none" stroke="#979797" stroke-width="0.5" stroke-linejoin="round" stroke-linecap="round"/>
<polyline points="497.0,184.4 500.4,185.0 501.2,187.0 502.3,188.6 505.0,189.9 508.0,190.5 511.0,189.8 513.7,188.6 515.3,186.7 516.6,184.6" fill="none" stroke="#979797" stroke-width="0.5" stroke-linejoin="round" stroke-linecap="round"/>
<polyline points="540.2,184.4 541.0,187.5 542.4,190.5 543.7,191.5" fill="none" stroke="#979797" stroke-width="0.5" stroke-linejoin="round" stroke-linecap="round"/>
<polyline points="431.3,250.7 427.3,252.8 423.6,255.0 421.2,257.3 418.9,259.7 417.0,264.0 415.0,268.3 413.2,269.9 411.2,271.2 412.2,274.2 413.1,277.7" fill="none" stroke="#979797" stroke-width="0.5" stroke-linejoin="round" stroke-linecap="round"/>
<polyline points="431.3,250.7 435.0,252.2 438.9,253.0 445.5,253.6 452.3,254.0 455.2,255.3 458.0,256.9 459.0,260.8 459.9,264.5 461.4,266.5 462.8,268.3 461.8,270.8 460.9,273.1 463.8,275.3 466.6,277.7" fill="none" stroke="#979797" stroke-width="0.5" stroke-linejoin="round" stroke-linecap="round"/>
<polyline points="318.4,155.3 322.0,154.8 325.5,154.2 329.2,153.8 333.5,154.3 338.3,155.3 341.5,155.8 344.3,156.0 346.3,158.2 347.4,160.2 348.2,162.5 348.8,165.5 349.4,168.8 350.3,172.0 351.5,175.0 352.8,176.8 354.3,178.1 355.8,180.5 357.3,183.0 358.7,185.7 360.1,188.3 362.5,189.5 364.9,190.6 366.4,193.3 364.5,194.3 361.8,195.2 362.4,197.0 363.1,198.7 364.2,201.0 364.4,203.4 364.3,208.1 366.5,210.8 369.7,212.9 374.0,214.7 378.3,216.3 381.5,219.6 384.5,220.7 387.8,221.5 389.4,223.5 390.7,225.3 392.7,225.9 394.9,226.4 395.5,228.7 395.8,231.0 398.0,232.2 400.0,233.2 401.5,234.8 403.1,236.7 405.5,240.0 408.4,243.0 411.0,244.5 413.5,245.9 417.5,248.3 421.5,250.3 426.5,250.8 431.3,250.7 435.0,249.8 438.9,248.7 442.7,247.2 446.5,245.8 451.0,244.4 455.8,243.2 459.8,242.6 463.7,242.8 466.3,244.3 468.5,245.6 472.0,247.2 475.2,248.9 477.2,250.7 479.0,252.8 479.3,255.0 479.3,257.0 481.8,259.1 482.6,261.3 482.7,263.4 480.2,265.3 480.9,267.3 483.5,267.6 486.6,267.3 488.5,266.5 490.5,265.8 492.6,265.6 494.8,265.8 495.5,263.5 494.0,261.6 492.3,261.5 495.5,260.9 498.1,260.0 499.5,258.3 500.4,256.8 502.3,256.1 504.2,255.8 506.6,254.3 509.0,253.0 511.0,253.9 512.8,254.3 515.2,252.7 517.5,251.0 519.5,249.6 521.4,248.2 523.1,247.0 524.8,245.9 526.5,244.7 528.0,243.4 529.5,241.3 530.5,239.0 531.3,237.0 531.9,234.8" fill="none" stroke="#4a4a4a" stroke-width="0.8" stroke-linejoin="round" stroke-linecap="round"/>
</g>
<circle cx="329.2" cy="153.8" r="1.50" fill="#ffd27a" stroke="#c9923a" stroke-width="0.4"/>
<circle cx="344.3" cy="156.0" r="2.35" fill="#ffa30f" stroke="#e09010" stroke-width="0.3"/>
<circle cx="348.2" cy="162.5" r="1.50" fill="#ffd27a" stroke="#c9923a" stroke-width="0.4"/>
<circle cx="354.3" cy="178.1" r="2.35" fill="#ffa30f" stroke="#e09010" stroke-width="0.3"/>
<circle cx="360.1" cy="188.3" r="1.50" fill="#ffd27a" stroke="#c9923a" stroke-width="0.4"/>
<circle cx="361.6" cy="195.3" r="1.50" fill="#ffd27a" stroke="#c9923a" stroke-width="0.4"/>
<circle cx="363.0" cy="198.6" r="2.35" fill="#ffa30f" stroke="#e09010" stroke-width="0.3"/>
<circle cx="364.3" cy="203.4" r="2.35" fill="#ffa30f" stroke="#e09010" stroke-width="0.3"/>
<circle cx="364.3" cy="208.1" r="2.35" fill="#ffa30f" stroke="#e09010" stroke-width="0.3"/>
<ellipse cx="369.7" cy="212.9" rx="3.10" ry="2.50" fill="#b9731b" stroke="#9c6012" stroke-width="0.25"/>
<circle cx="378.3" cy="216.3" r="1.50" fill="#ffd27a" stroke="#c9923a" stroke-width="0.4"/>
<circle cx="381.5" cy="219.6" r="2.35" fill="#ffa30f" stroke="#e09010" stroke-width="0.3"/>
<circle cx="394.9" cy="226.4" r="2.35" fill="#ffa30f" stroke="#e09010" stroke-width="0.3"/>
<ellipse cx="395.7" cy="231.1" rx="3.10" ry="2.50" fill="#b9731b" stroke="#9c6012" stroke-width="0.25"/>
<circle cx="399.9" cy="233.2" r="2.35" fill="#ffa30f" stroke="#e09010" stroke-width="0.3"/>
<circle cx="403.1" cy="236.7" r="1.50" fill="#ffd27a" stroke="#c9923a" stroke-width="0.4"/>
<circle cx="413.5" cy="245.9" r="2.35" fill="#ffa30f" stroke="#e09010" stroke-width="0.3"/>
<ellipse cx="421.5" cy="250.3" rx="3.10" ry="2.50" fill="#b9731b" stroke="#9c6012" stroke-width="0.25"/>
<ellipse cx="431.3" cy="250.7" rx="3.40" ry="2.80" fill="#7b4a10" stroke="#5c350a" stroke-width="0.25"/>
<circle cx="455.8" cy="243.2" r="1.50" fill="#ffd27a" stroke="#c9923a" stroke-width="0.4"/>
<circle cx="463.7" cy="242.8" r="1.50" fill="#ffd27a" stroke="#c9923a" stroke-width="0.4"/>
<circle cx="481.8" cy="259.1" r="1.50" fill="#ffd27a" stroke="#c9923a" stroke-width="0.4"/>
<circle cx="477.7" cy="264.4" r="2.35" fill="#ffa30f" stroke="#e09010" stroke-width="0.3"/>
<circle cx="492.3" cy="261.5" r="2.35" fill="#ffa30f" stroke="#e09010" stroke-width="0.3"/>
<ellipse cx="494.8" cy="265.8" rx="3.10" ry="2.50" fill="#b9731b" stroke="#9c6012" stroke-width="0.25"/>
<circle cx="498.1" cy="260.0" r="1.50" fill="#ffd27a" stroke="#c9923a" stroke-width="0.4"/>
<circle cx="504.2" cy="255.8" r="1.50" fill="#ffd27a" stroke="#c9923a" stroke-width="0.4"/>
<circle cx="524.8" cy="245.9" r="1.50" fill="#ffd27a" stroke="#c9923a" stroke-width="0.4"/>
<circle cx="527.5" cy="240.5" r="1.50" fill="#ffd27a" stroke="#c9923a" stroke-width="0.4"/>
<ellipse cx="528.0" cy="243.4" rx="3.10" ry="2.50" fill="#b9731b" stroke="#9c6012" stroke-width="0.25"/>
<circle cx="530.5" cy="239.0" r="2.35" fill="#ffa30f" stroke="#e09010" stroke-width="0.3"/>
<circle cx="533.8" cy="239.0" r="1.50" fill="#ffd27a" stroke="#c9923a" stroke-width="0.4"/>
<circle cx="531.9" cy="234.8" r="1.50" fill="#ffd27a" stroke="#c9923a" stroke-width="0.4"/>
<rect x="451.3" y="144.8" width="92.4" height="39.6" fill="#c5e6fa" stroke="#7d8c96" stroke-width="0.4"/>
<text x="454.60" y="153.60" font-size="5.9" textLength="84.80" lengthAdjust="spacingAndGlyphs" style="stroke-width:0.1px">Cumulative frequency(Times)</text>
<circle cx="458.8" cy="158.1" r="1.35" fill="#ffd27a" stroke="#c9923a" stroke-width="0.4"/>
<text x="465.60" y="160.20" font-size="5.9" textLength="9.90" lengthAdjust="spacingAndGlyphs" style="stroke-width:0.1px">4–8</text>
<circle cx="458.8" cy="164.4" r="1.95" fill="#ffa30f" stroke="#e09010" stroke-width="0.3"/>
<text x="465.60" y="166.50" font-size="5.9" textLength="13.40" lengthAdjust="spacingAndGlyphs" style="stroke-width:0.1px">8–12</text>
<ellipse cx="458.8" cy="170.9" rx="2.57" ry="2.07" fill="#b9731b" stroke="#9c6012" stroke-width="0.25"/>
<text x="465.60" y="173.00" font-size="5.9" textLength="17.00" lengthAdjust="spacingAndGlyphs" style="stroke-width:0.1px">12–16</text>
<ellipse cx="459.0" cy="178.2" rx="3.06" ry="2.52" fill="#7b4a10" stroke="#5c350a" stroke-width="0.25"/>
<text x="465.60" y="180.30" font-size="5.9" textLength="17.60" lengthAdjust="spacingAndGlyphs" style="stroke-width:0.1px">16–20</text>
<rect x="306.5" y="144.6" width="237.30" height="133.25" fill="none" stroke="#555" stroke-width="0.7"/>
<line x1="394.80" y1="142.80" x2="394.80" y2="145.40" stroke="#3a3a3a" stroke-width="0.5"/>
<line x1="394.80" y1="276.85" x2="394.80" y2="279.45" stroke="#3a3a3a" stroke-width="0.5"/>
<line x1="484.50" y1="142.80" x2="484.50" y2="145.40" stroke="#3a3a3a" stroke-width="0.5"/>
<line x1="484.50" y1="276.85" x2="484.50" y2="279.45" stroke="#3a3a3a" stroke-width="0.5"/>
<line x1="304.70" y1="204.40" x2="307.30" y2="204.40" stroke="#3a3a3a" stroke-width="0.5"/>
<line x1="543.00" y1="204.40" x2="545.60" y2="204.40" stroke="#3a3a3a" stroke-width="0.5"/>
<line x1="304.70" y1="273.00" x2="307.30" y2="273.00" stroke="#3a3a3a" stroke-width="0.5"/>
<line x1="543.00" y1="273.00" x2="545.60" y2="273.00" stroke="#3a3a3a" stroke-width="0.5"/>
<text x="313.20" y="163.50" font-size="5.6" textLength="24.80" lengthAdjust="spacingAndGlyphs" fill="#2a2a2a" style="stroke-width:0.05px">Chengdu</text>
<text x="378.30" y="194.00" font-size="5.6" textLength="18.10" lengthAdjust="spacingAndGlyphs" fill="#2a2a2a" style="stroke-width:0.05px">Ziyang</text>
<text x="422.90" y="171.70" font-size="5.6" textLength="21.00" lengthAdjust="spacingAndGlyphs" fill="#2a2a2a" style="stroke-width:0.05px">Suining</text>
<text x="365.50" y="233.70" font-size="5.6" textLength="22.70" lengthAdjust="spacingAndGlyphs" fill="#2a2a2a" style="stroke-width:0.05px">Neijiang</text>
<text x="368.70" y="254.20" font-size="5.6" textLength="19.50" lengthAdjust="spacingAndGlyphs" fill="#2a2a2a" style="stroke-width:0.05px">Zigong</text>
<text x="415.00" y="245.60" font-size="5.6" textLength="31.20" lengthAdjust="spacingAndGlyphs" fill="#2a2a2a" style="stroke-width:0.05px">Longchang</text>
<text x="505.10" y="232.10" font-size="5.6" textLength="30.60" lengthAdjust="spacingAndGlyphs" fill="#2a2a2a" style="stroke-width:0.05px">Chongqing</text>
<text x="283.70" y="206.90" font-size="7.0" textLength="20.60" lengthAdjust="spacingAndGlyphs" style="stroke-width:0.15px">30° N</text>
<text x="283.70" y="275.70" font-size="7.0" textLength="20.60" lengthAdjust="spacingAndGlyphs" style="stroke-width:0.15px">29° N</text>
<text x="383.00" y="285.50" font-size="7.0" textLength="22.20" lengthAdjust="spacingAndGlyphs" style="stroke-width:0.15px">105° E</text>
<text x="473.30" y="285.50" font-size="7.0" textLength="22.90" lengthAdjust="spacingAndGlyphs" style="stroke-width:0.15px">106° E</text>
<text x="306.90" y="156.40" font-size="7.9" textLength="10.50" lengthAdjust="spacingAndGlyphs" fill="#5a5a5a" font-family="'Liberation Serif','DejaVu Serif',serif" style="stroke:none">(d)</text>
</g>
</svg>
</body>
</html>
